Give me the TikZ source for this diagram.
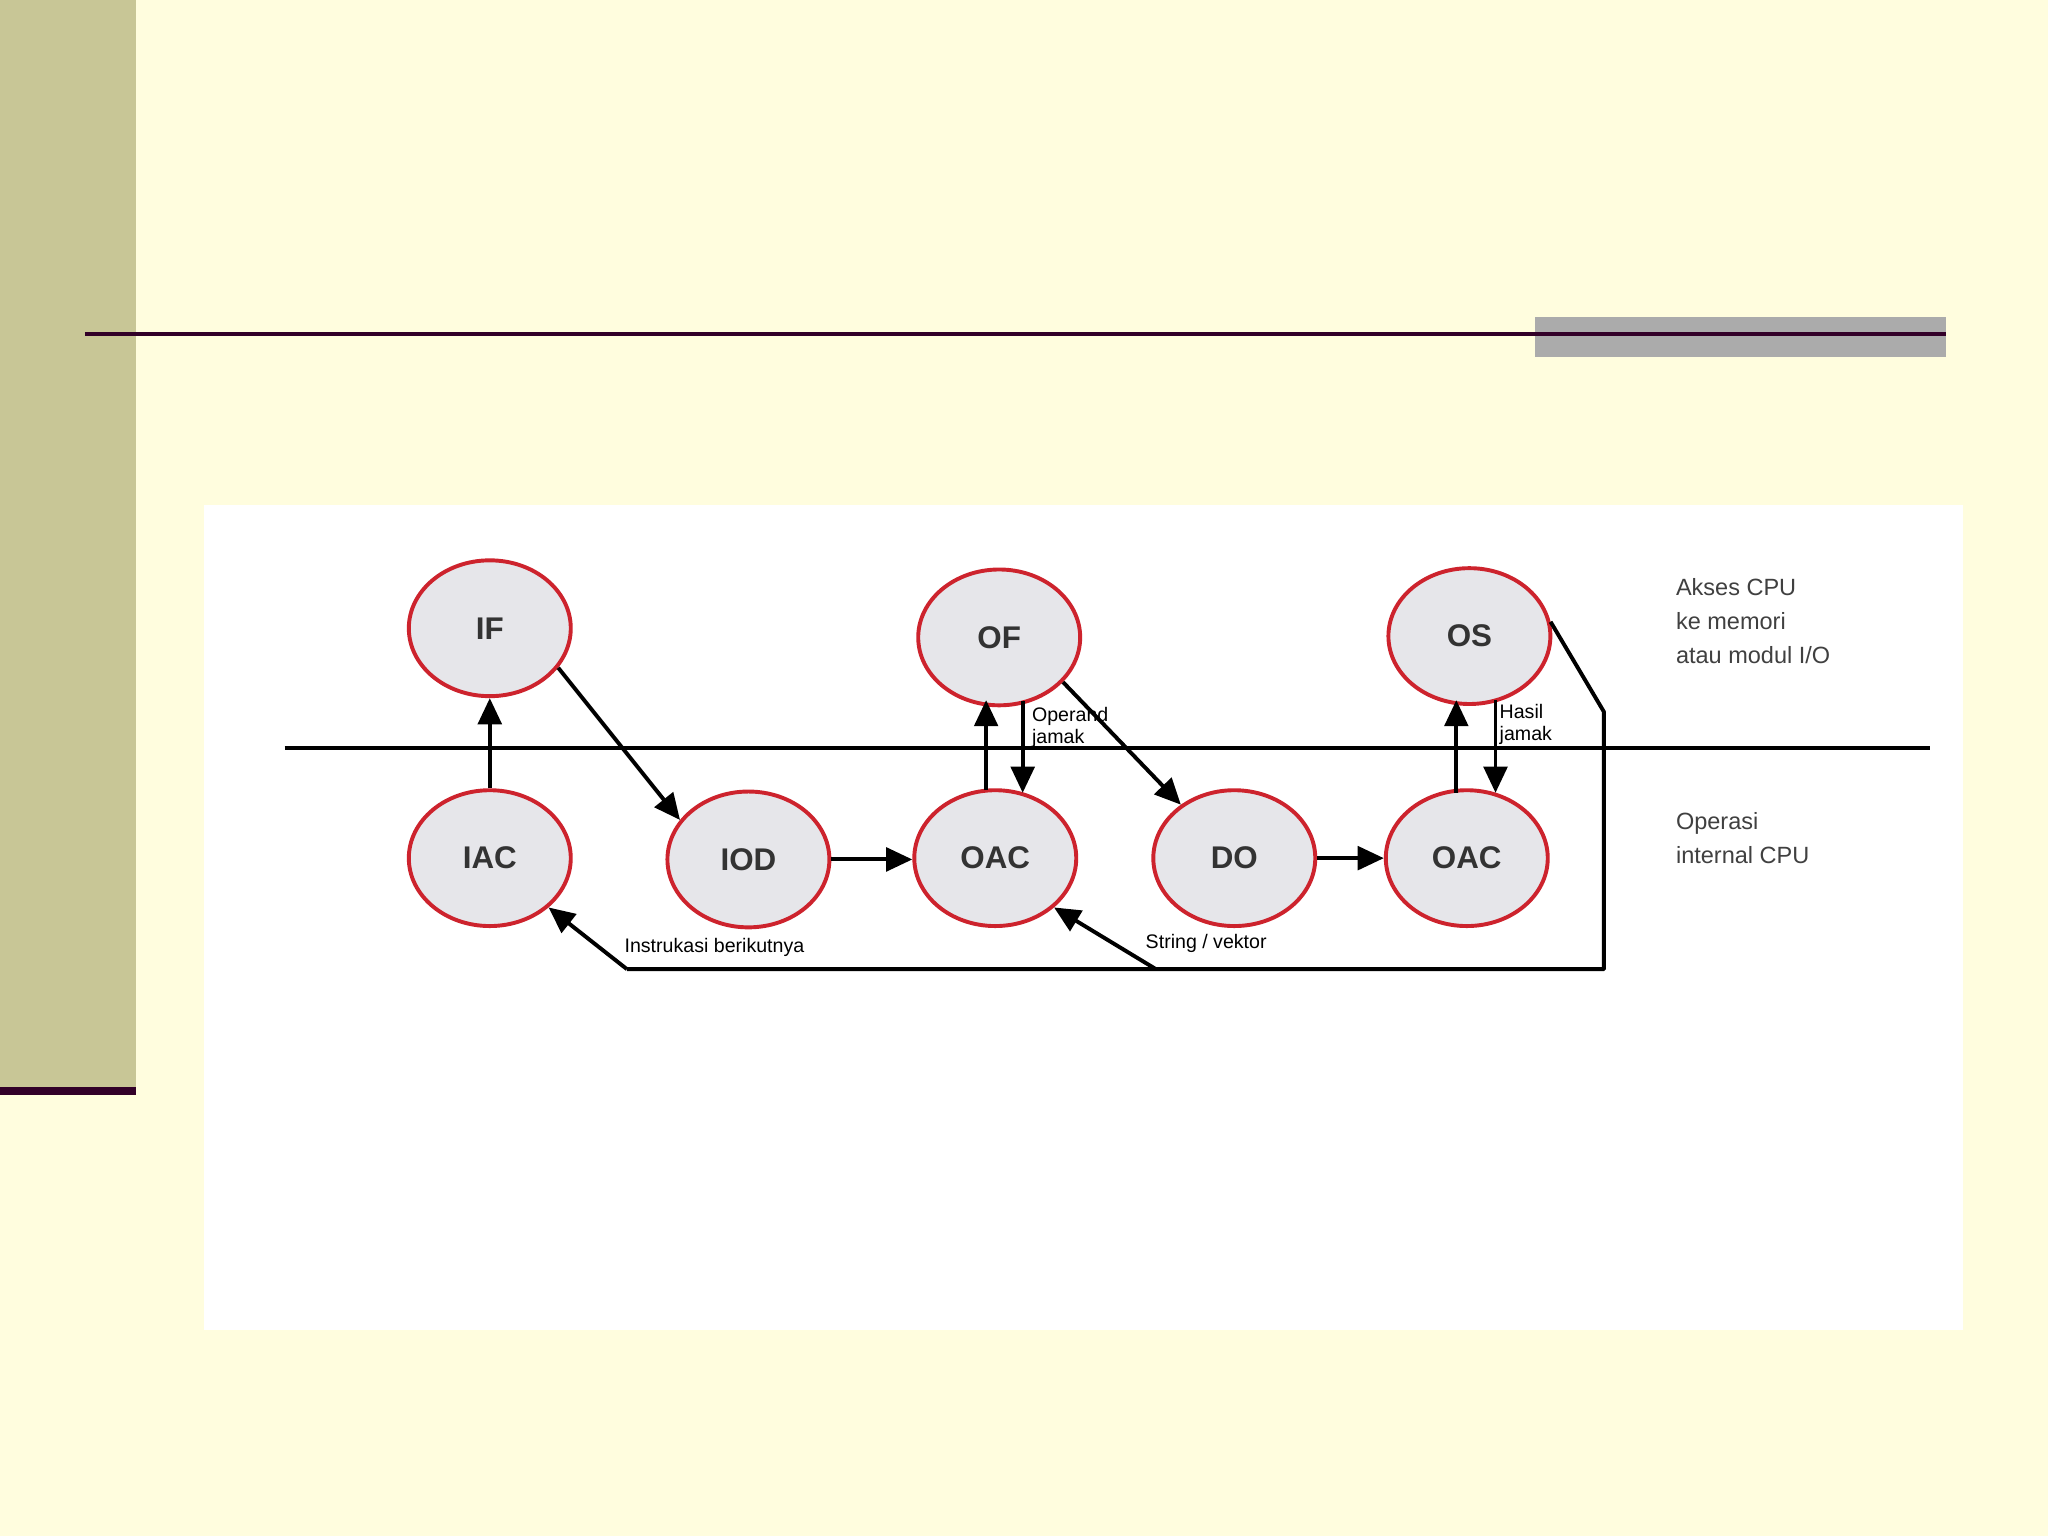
\documentclass[tikz,border=0pt]{standalone}
\usepackage{fontspec}
\setmainfont{Liberation Sans}
\usetikzlibrary{arrows.meta,shapes.geometric}
\definecolor{bg}{RGB}{255,253,222}
\definecolor{bar}{RGB}{200,198,150}
\definecolor{dpurp}{RGB}{50,0,40}
\definecolor{ring}{RGB}{205,35,45}
\definecolor{cfill}{RGB}{230,230,234}
\begin{document}
\begin{tikzpicture}[x=1pt,y=-1pt,
  st/.style={ellipse,draw=ring,line width=3pt,fill=cfill,minimum width=124pt,minimum height=104pt,inner sep=0pt,font=\fontsize{24}{26}\selectfont\bfseries,text=black!80},
  arr/.style={line width=3pt,-{Triangle[length=20pt,width=18pt]}},
  ln/.style={line width=3pt},
  lbl/.style={font=\fontsize{15}{17}\selectfont,inner sep=0pt},
  side/.style={font=\fontsize{18}{26}\selectfont,align=left,anchor=north west,inner sep=0pt,text=black!75}]
\useasboundingbox (0,0) rectangle (1568,1176);
\fill[bg] (0,0) rectangle (1568,1176);
\fill[bar] (0,0) rectangle (104,835);
\fill[dpurp] (0,832) rectangle (104,838);
\fill[black!33] (1175,243) rectangle (1490,273);
\draw[dpurp,line width=3pt] (65,256) -- (1490,256);
\fill[white] (156,387) rectangle (1503,1018);
\draw[ln] (218,573) -- (1478,573);
\node[st] (IF) at (375,481) {IF};
\node[st] (OF) at (765,488) {OF};
\node[st] (OS) at (1125,487) {OS};
\node[st] (IAC) at (375,657) {IAC};
\node[st] (IOD) at (573,658) {IOD};
\node[st] (OAC1) at (762,657) {OAC};
\node[st] (DO) at (945,657) {DO};
\node[st] (OAC2) at (1123,657) {OAC};
\draw[arr] (IAC.north) -- (IF.south);
\draw[arr] (IF.-30) -- (IOD.150);
\draw[arr] (IOD.east) -- (IOD.east -| OAC1.west);
\draw[arr] (755,605) -- (755,536);
\draw[arr] (783,537) -- (783,607);
\draw[arr] (OF.-35) -- (DO.135);
\draw[arr] (DO.east) -- (OAC2.west);
\draw[arr] (1115,607) -- (1115,536);
\draw[arr] (1145,536) -- (1145,607);
\coordinate (c1) at (1228,545);
\coordinate (c2) at (1228,742);
\coordinate (c3) at (480,742);
\coordinate (c4) at (885,742);
\draw[ln,line join=round] (OS.10) -- (c1) -- (c2) -- (c3);
\draw[arr] (c3) -- (IAC.-40);
\draw[arr] (c4) -- (OAC1.-40);
\node[lbl,anchor=west] (l1) at (478,725) {Instrukasi berikutnya};
\node[lbl,anchor=west] (l2) at (877,722) {String / vektor};
\node[lbl,anchor=north west,align=left] (l3) at (790,541) {Operand\\jamak};
\node[lbl,anchor=north west,align=left] (l4) at (1148,539) {Hasil\\jamak};
\node[side] (s1) at (1283,443) {Akses CPU\\ke memori\\atau modul I/O};
\node[side] (s2) at (1283,622) {Operasi\\internal CPU};
\end{tikzpicture}
\end{document}
